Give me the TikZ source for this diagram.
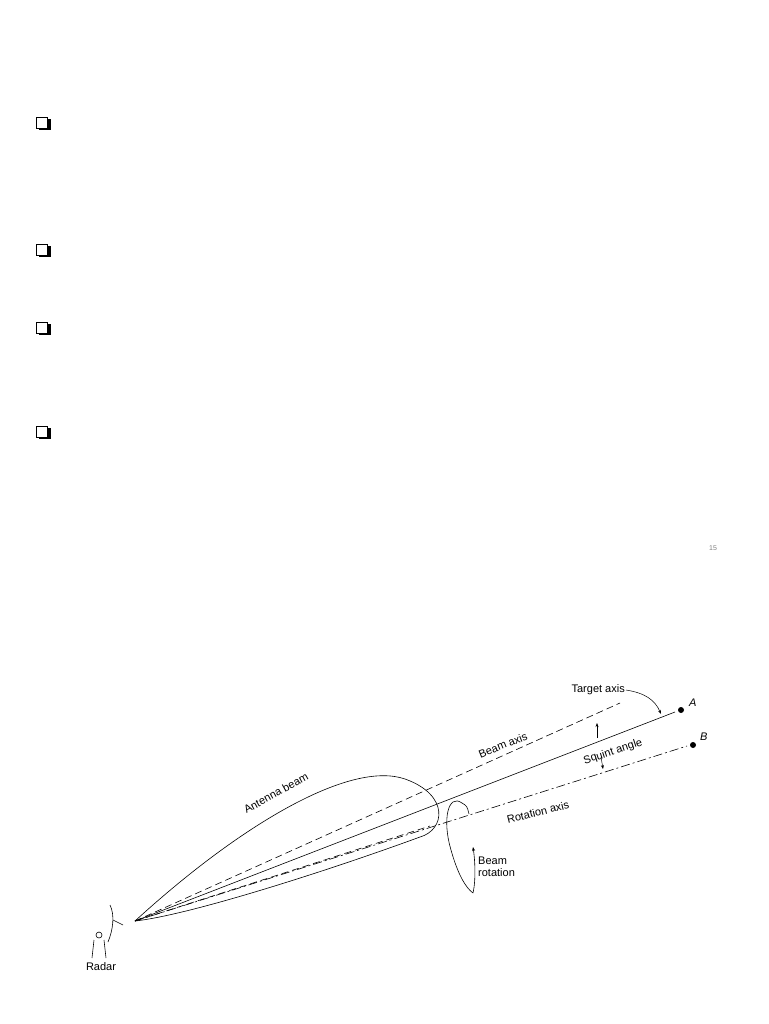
\documentclass[tikz,border=0pt]{standalone}
\usepackage{fontspec}
\setmainfont{Liberation Sans}
\usetikzlibrary{arrows.meta}
\begin{document}
\begin{tikzpicture}[x=1pt,y=-1pt,
  lbl/.style={font=\fontsize{11}{12}\selectfont,inner sep=1pt},
  dd/.style={dash pattern=on 7pt off 4pt},
  dash dot/.style={dash pattern=on 9pt off 3pt on 2pt off 3pt}]
\useasboundingbox (0,0) rectangle (768,1024);
% checkboxes
\foreach \y/\n in {123/c1,250/c2,328/c3,432/c4}{
  \fill (45,\y-4) rectangle (51,\y+7);
  \fill (39,\y+2) rectangle (51,\y+7);
  \node[draw,fill=white,line width=0.7pt,minimum size=11pt,inner sep=0pt] (\n) at (42,\y) {};
}
\node[text=gray,font=\fontsize{7}{8}\selectfont] (pg) at (713,548) {15};
% geometry
\coordinate (O) at (135,921);
\coordinate (A) at (681,710);
\coordinate (B) at (693,745);
\fill (A) circle (3pt);
\fill (B) circle (3pt);
\node[lbl,font=\itshape\fontsize{11}{12}\selectfont,anchor=west] (Al) at (688,703) {A};
\node[lbl,font=\itshape\fontsize{11}{12}\selectfont,anchor=west] (Bl) at (699,737) {B};
% lobe
\draw[line width=0.6pt] (O) .. controls (240,825) and (350,760) .. (405,779)
   .. controls (450,795) and (445,830) .. (420,837)
   .. controls (330,870) and (190,915) .. (O);
% axes
\draw[line width=0.6pt,dd] (O) -- (620,703);
\draw[line width=0.6pt] (O) -- (675,712);
\draw[line width=0.6pt,dash dot] (O) -- (687,746);
\draw[line width=0.6pt,dd] (O) -- (430,826);
% squint angle arrows
\draw[-{Stealth[length=4pt]},line width=0.5pt] (597,738) -- (597,723);
\draw[-{Stealth[length=4pt]},line width=0.5pt] (601,757) -- (603,769);
% target axis label
\node[lbl,anchor=east] (ta) at (626,690) {Target axis};
\draw[-{Stealth[length=4pt]},line width=0.5pt] (ta.east) .. controls (645,693) and (655,700) .. (661,714);
% beam rotation
\draw[line width=0.6pt] (462,803) .. controls (448,793) and (442,820) .. (451,850)
   .. controls (458,875) and (466,888) .. (473,893);
\draw[line width=0.6pt,-{Stealth[length=4pt]}] (473,893) .. controls (476,880) and (475,860) .. (473,847);
\draw[line width=0.6pt] (462,803) .. controls (467,806) .. (469,814);
\node[lbl,anchor=north west,align=left,inner sep=0pt] (br) at (478,857) {Beam\\rotation};
% labels
\node[lbl,rotate=29] (ab) at (276,793) {Antenna beam};
\node[lbl,rotate=22] (ba) at (503,745) {Beam axis};
\node[lbl,rotate=18] (sa) at (613,752) {Squint angle};
\node[lbl,rotate=14] (ra) at (538,812) {Rotation axis};
% radar
\draw[line width=0.6pt] (110,905) .. controls (115,915) and (113,930) .. (108,942);
\draw[line width=0.6pt] (113,920) -- (123,925);
\draw[line width=0.6pt] (99,935) circle (3pt);
\draw[line width=0.6pt] (94,940) -- (92,958);
\draw[line width=0.6pt] (104,940) -- (106,958);
\node[lbl] (rad) at (101,967) {Radar};
\end{tikzpicture}
\end{document}
